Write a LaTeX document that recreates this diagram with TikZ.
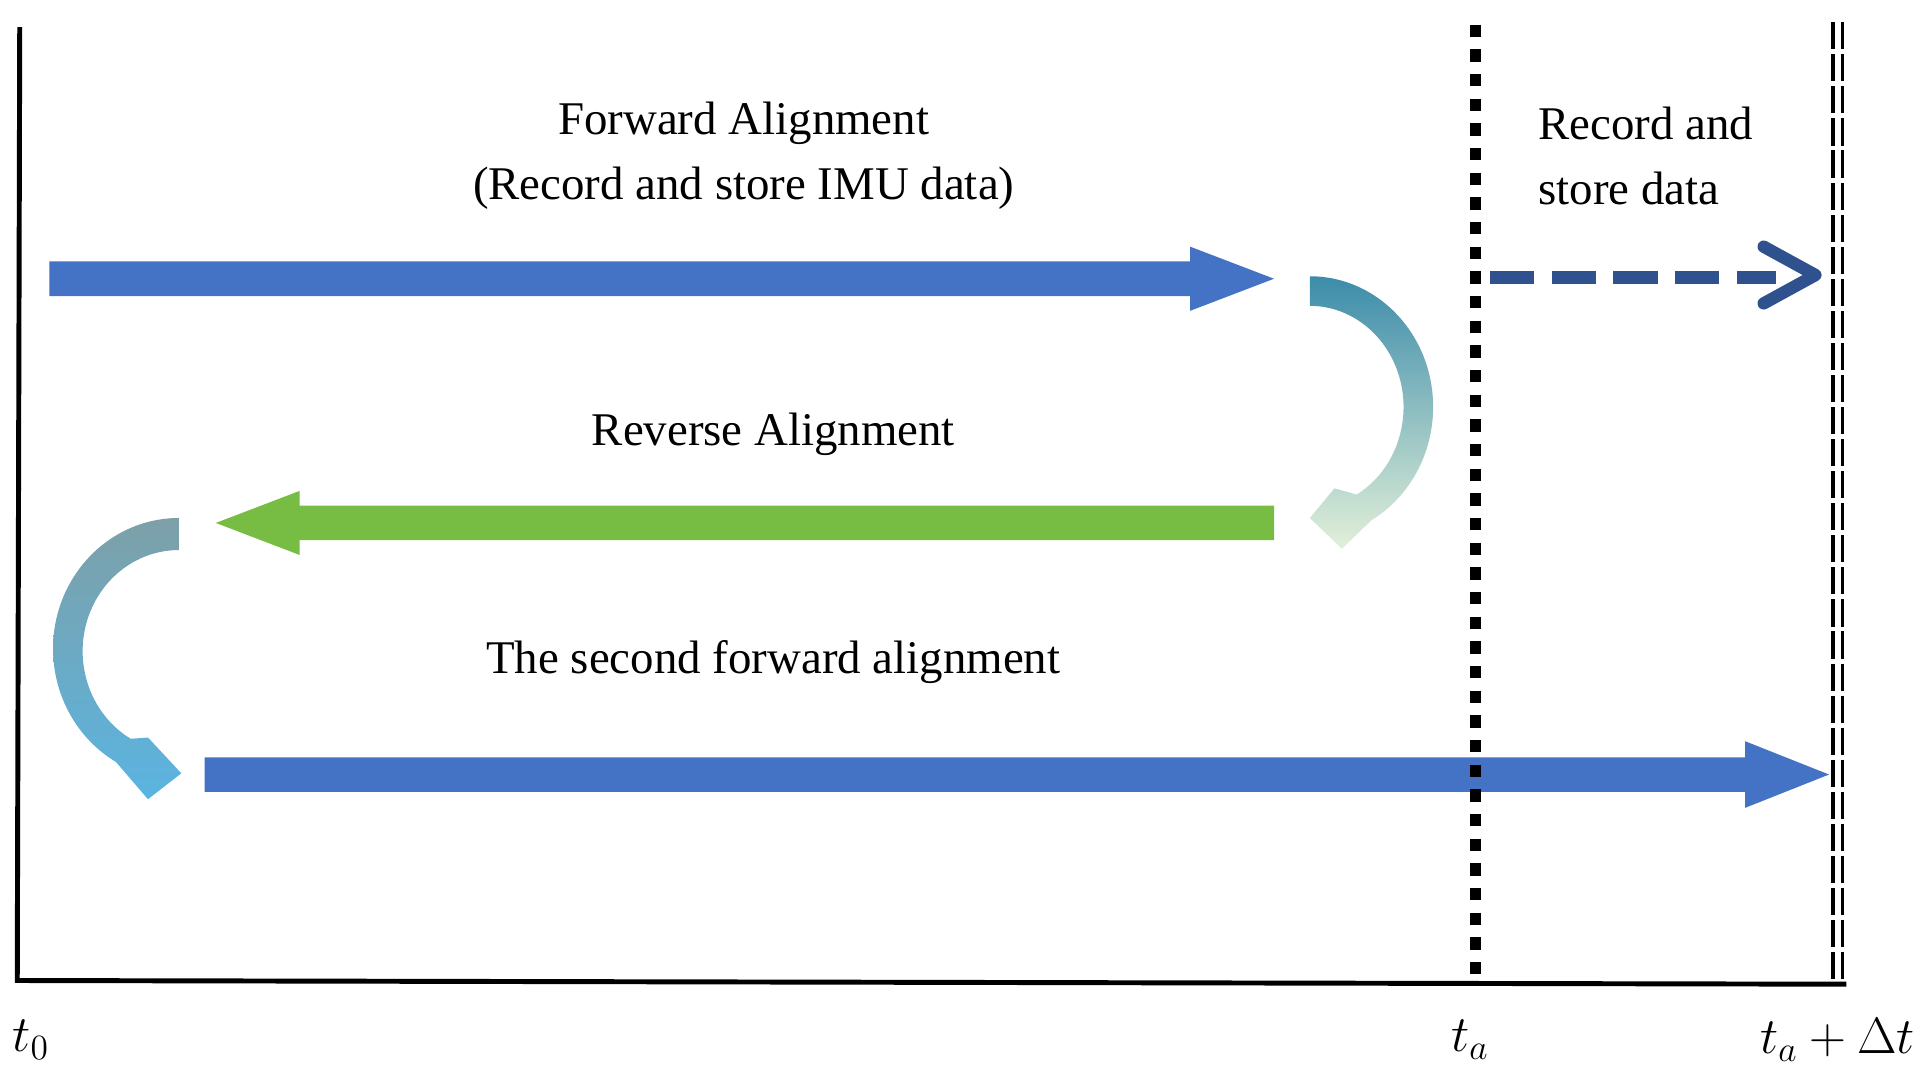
\documentclass[tikz,border=0pt]{standalone}
\usepackage{fontspec}
\setmainfont{Liberation Serif}
\begin{document}
\begin{tikzpicture}[x=0.5pt,y=0.5pt,
  lbl/.style={font=\fontsize{19}{23}\selectfont,inner sep=0pt},
  mlbl/.style={font=\fontsize{21}{25}\selectfont,inner sep=0pt}]
\definecolor{blu}{HTML}{4472C4}
\definecolor{grn}{HTML}{77BC43}
\definecolor{dblu}{HTML}{2F528F}
\useasboundingbox (0,0) rectangle (1560,-873);
% axes
\draw[line width=2pt] (16,-22) -- (14,-795) -- (1497,-798);
% arrows
\fill[blu] (40,-212) -- (965,-212) -- (965,-200) -- (1033,-226) -- (965,-252) -- (965,-240) -- (40,-240) -- cycle;
\fill[grn] (1033,-410) -- (243,-410) -- (243,-398) -- (175,-424) -- (243,-450) -- (243,-438) -- (1033,-438) -- cycle;
\fill[blu] (166,-614) -- (1415,-614) -- (1415,-601) -- (1483,-628) -- (1415,-655) -- (1415,-642) -- (166,-642) -- cycle;
% dashed arrow
\draw[dblu,line width=5pt,dash pattern=on 18pt off 7pt] (1208,-225) -- (1440,-225);
\draw[dblu,line width=5pt,line cap=round,line join=round] (1430,-200) -- (1472,-223) -- (1430,-246);
% curved arrows
\shade[top color={rgb,255:red,60;green,140;blue,170},bottom color={rgb,255:red,226;green,240;blue,217}]
 (1062,-224) arc[start angle=90,end angle=-60,x radius=100,y radius=106]
 -- (1088,-445) -- (1062,-420) -- (1082,-396) -- (1100,-401)
 arc[start angle=-60,end angle=90,x radius=76,y radius=82] -- cycle;
\shade[top color={rgb,255:red,125;green,160;blue,168},bottom color={rgb,255:red,90;green,180;blue,225}]
 (145,-420) arc[start angle=90,end angle=240,x radius=102,y radius=106]
 -- (120,-648) -- (147,-627) -- (120,-598) -- (106,-599)
 arc[start angle=240,end angle=90,x radius=78,y radius=82] -- cycle;
% vertical lines
\draw[line width=4.5pt,dash pattern=on 5pt off 5pt] (1196,-20) -- (1196,-790);
\draw[line width=1.5pt,dash pattern=on 11pt off 2pt] (1486,-18) -- (1486,-798);
\draw[line width=1.5pt,dash pattern=on 11pt off 2pt] (1494,-18) -- (1494,-798);
% texts
\node[lbl] (fa) at (603,-100) {Forward Alignment};
\node[lbl] (fb) at (603,-153) {(Record and store IMU data)};
\node[lbl,anchor=west] (ra) at (1247,-100) {Record and};
\node[lbl,anchor=west] (rb) at (1247,-153) {store data};
\node[lbl] (rev) at (627,-352) {Reverse Alignment};
\node[lbl] (sec) at (627,-537) {The second forward alignment};
\node[mlbl] (t0) at (25,-843) {$t_0$};
\node[mlbl] (ta) at (1192,-843) {$t_a$};
\node[mlbl] (tad) at (1490,-843) {$t_a+\Delta t$};
\end{tikzpicture}
\end{document}
